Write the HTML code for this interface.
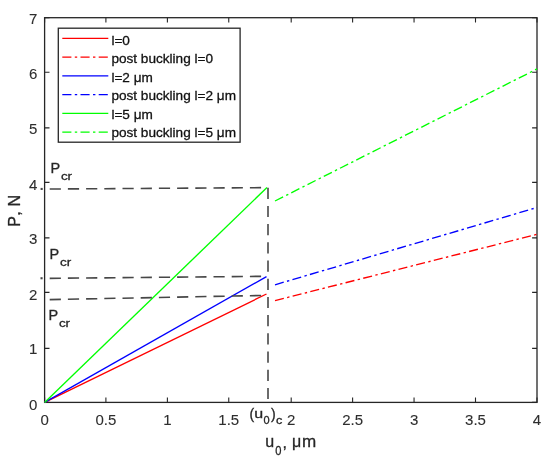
<!DOCTYPE html>
<html><head><meta charset="utf-8"><title>Plot</title>
<style>html,body{margin:0;padding:0;background:#fff;}svg{display:block;}</style>
</head><body>
<svg width="550" height="460" viewBox="0 0 550 460">
<rect width="550" height="460" fill="#fff"/>
<defs><clipPath id="c"><rect x="43.9" y="17.0" width="493.80" height="386.10"/></clipPath></defs>
<rect x="44.6" y="17.7" width="492.40" height="384.70" fill="none" stroke="#262626" stroke-width="1.3"/>
<path d="M44.60 402.4V397.50M44.60 17.7V22.60M105.90 402.4V397.50M105.90 17.7V22.60M167.40 402.4V397.50M167.40 17.7V22.60M228.75 402.4V397.50M228.75 17.7V22.60M291.20 402.4V397.50M291.20 17.7V22.60M352.60 402.4V397.50M352.60 17.7V22.60M414.05 402.4V397.50M414.05 17.7V22.60M475.50 402.4V397.50M475.50 17.7V22.60M537.00 402.4V397.50M537.00 17.7V22.60M44.6 402.40H49.50M537.0 402.40H532.10M44.6 348.35H49.50M537.0 348.35H532.10M44.6 292.40H49.50M537.0 292.40H532.10M44.6 237.90H49.50M537.0 237.90H532.10M44.6 182.34H49.50M537.0 182.34H532.10M44.6 127.84H49.50M537.0 127.84H532.10M44.6 72.26H49.50M537.0 72.26H532.10M44.6 17.70H49.50M537.0 17.70H532.10" stroke="#262626" stroke-width="1.1" fill="none"/>
<g clip-path="url(#c)" fill="none">
<line x1="44.6" y1="402.4" x2="266.5" y2="294.0" stroke="#ff0000" stroke-width="1.35"/>
<line x1="44.6" y1="402.4" x2="266.5" y2="276.6" stroke="#0000ff" stroke-width="1.35"/>
<line x1="44.6" y1="402.4" x2="267" y2="187.5" stroke="#00ff00" stroke-width="1.35"/>
<line x1="31.5" y1="189.15" x2="267.5" y2="187.62" stroke="#474747" stroke-width="1.6" stroke-dasharray="11.2 7.0"/>
<line x1="31.5" y1="278.52" x2="267.5" y2="276.28" stroke="#474747" stroke-width="1.6" stroke-dasharray="11.2 7.0"/>
<line x1="31.5" y1="299.96" x2="267.5" y2="295.36" stroke="#474747" stroke-width="1.6" stroke-dasharray="11.2 7.0"/>
<line x1="268" y1="187.7" x2="268" y2="420" stroke="#474747" stroke-width="1.6" stroke-dasharray="11.2 7.0"/>
<line x1="275.0" y1="300.60" x2="537.0" y2="234.31" stroke="#ff0000" stroke-width="1.35" stroke-dasharray="9.1 3.4 2.4 3.3"/>
<line x1="275.0" y1="284.80" x2="537.0" y2="207.51" stroke="#0000ff" stroke-width="1.35" stroke-dasharray="9.1 3.4 2.4 3.3"/>
<line x1="275.0" y1="201.00" x2="537.0" y2="68.95" stroke="#00ff00" stroke-width="1.35" stroke-dasharray="9.1 3.4 2.4 3.3"/>
</g>
<rect x="40.6" y="187.9" width="2.1" height="2.1" fill="#474747"/>
<rect x="40.5" y="277.2" width="2.1" height="2.1" fill="#474747"/>
<g font-family="'Liberation Sans', Arial, Helvetica, sans-serif" font-size="15" fill="#2e2e2e" stroke="#2e2e2e" stroke-width="0.1">
<text x="44.60" y="424.6" text-anchor="middle">0</text>
<text x="105.90" y="424.6" text-anchor="middle">0.5</text>
<text x="167.40" y="424.6" text-anchor="middle">1</text>
<text x="228.75" y="424.6" text-anchor="middle">1.5</text>
<text x="291.20" y="424.6" text-anchor="middle">2</text>
<text x="352.60" y="424.6" text-anchor="middle">2.5</text>
<text x="414.05" y="424.6" text-anchor="middle">3</text>
<text x="475.50" y="424.6" text-anchor="middle">3.5</text>
<text x="537.00" y="424.6" text-anchor="middle">4</text>
<text x="37.4" y="409.91" text-anchor="end">0</text>
<text x="37.4" y="354.26" text-anchor="end">1</text>
<text x="37.4" y="300.36" text-anchor="end">2</text>
<text x="37.4" y="244.31" text-anchor="end">3</text>
<text x="37.4" y="189.56" text-anchor="end">4</text>
<text x="37.4" y="133.96" text-anchor="end">5</text>
<text x="37.4" y="79.41" text-anchor="end">6</text>
<text x="37.4" y="23.86" text-anchor="end">7</text>
</g>
<g font-family="'Liberation Sans', Arial, Helvetica, sans-serif" fill="#262626" stroke="#262626" stroke-width="0.3">
<text x="265.2" y="447.1" font-size="16">u</text>
<text x="275.2" y="455.4" font-size="13" textLength="6.2" lengthAdjust="spacingAndGlyphs">0</text>
<text x="282.6" y="447.9" font-size="16">,</text>
<text x="292.0" y="447.1" font-size="16">μ</text>
<text x="301.9" y="447.1" font-size="16" textLength="14.2" lengthAdjust="spacingAndGlyphs">m</text>
<g transform="rotate(-90)" font-size="16"><text x="-226.8" y="20.1">P</text><text x="-215.8" y="20.1">,</text><text x="-206.5" y="20.1">N</text></g>
</g>
<g font-family="'Liberation Sans', Arial, Helvetica, sans-serif" fill="#262626" stroke="#262626" stroke-width="0.3">
<text x="50.6" y="172.8" font-size="14.5">P</text>
<text x="60.9" y="179.9" font-size="11.5" textLength="11.2" lengthAdjust="spacingAndGlyphs">cr</text>
<text x="49.5" y="258.9" font-size="14.5">P</text>
<text x="60.0" y="266.0" font-size="11.5" textLength="11.2" lengthAdjust="spacingAndGlyphs">cr</text>
<text x="48.4" y="320.1" font-size="14.5">P</text>
<text x="58.9" y="326.9" font-size="11.5" textLength="11.2" lengthAdjust="spacingAndGlyphs">cr</text>
<text x="249.6" y="418.7" font-size="14">(</text>
<text x="254.3" y="417.8" font-size="13.5" textLength="8.9" lengthAdjust="spacingAndGlyphs">u</text>
<text x="263.6" y="423.8" font-size="11">0</text>
<text x="270.9" y="418.7" font-size="14">)</text>
<text x="275.9" y="423.9" font-size="10.5" textLength="6.3" lengthAdjust="spacingAndGlyphs">c</text>
</g>
<rect x="58.3" y="28.2" width="181.80" height="114.00" fill="#fff" stroke="#262626" stroke-width="1.3"/>
<g font-family="'Liberation Sans', Arial, Helvetica, sans-serif" font-size="13.6" fill="#111" stroke="#111" stroke-width="0.3">
<line x1="62.3" y1="38.37" x2="108.3" y2="38.37" stroke="#ff0000" stroke-width="1.35"/>
<text x="111.4" y="44.60">l=0</text>
<line x1="62.3" y1="57.13" x2="108.3" y2="57.13" stroke="#ff0000" stroke-width="1.35" stroke-dasharray="9.1 3.4 2.4 3.3"/>
<text x="111.4" y="63.16">post buckling l=0</text>
<line x1="62.3" y1="75.89" x2="108.3" y2="75.89" stroke="#0000ff" stroke-width="1.35"/>
<text x="111.4" y="81.72">l=2 μm</text>
<line x1="62.3" y1="94.65" x2="108.3" y2="94.65" stroke="#0000ff" stroke-width="1.35" stroke-dasharray="9.1 3.4 2.4 3.3"/>
<text x="111.4" y="100.28">post buckling l=2 μm</text>
<line x1="62.3" y1="113.41" x2="108.3" y2="113.41" stroke="#00ff00" stroke-width="1.35"/>
<text x="111.4" y="118.84">l=5 μm</text>
<line x1="62.3" y1="132.17" x2="108.3" y2="132.17" stroke="#00ff00" stroke-width="1.35" stroke-dasharray="9.1 3.4 2.4 3.3"/>
<text x="111.4" y="137.40">post buckling l=5 μm</text>
</g>
</svg>
</body></html>
